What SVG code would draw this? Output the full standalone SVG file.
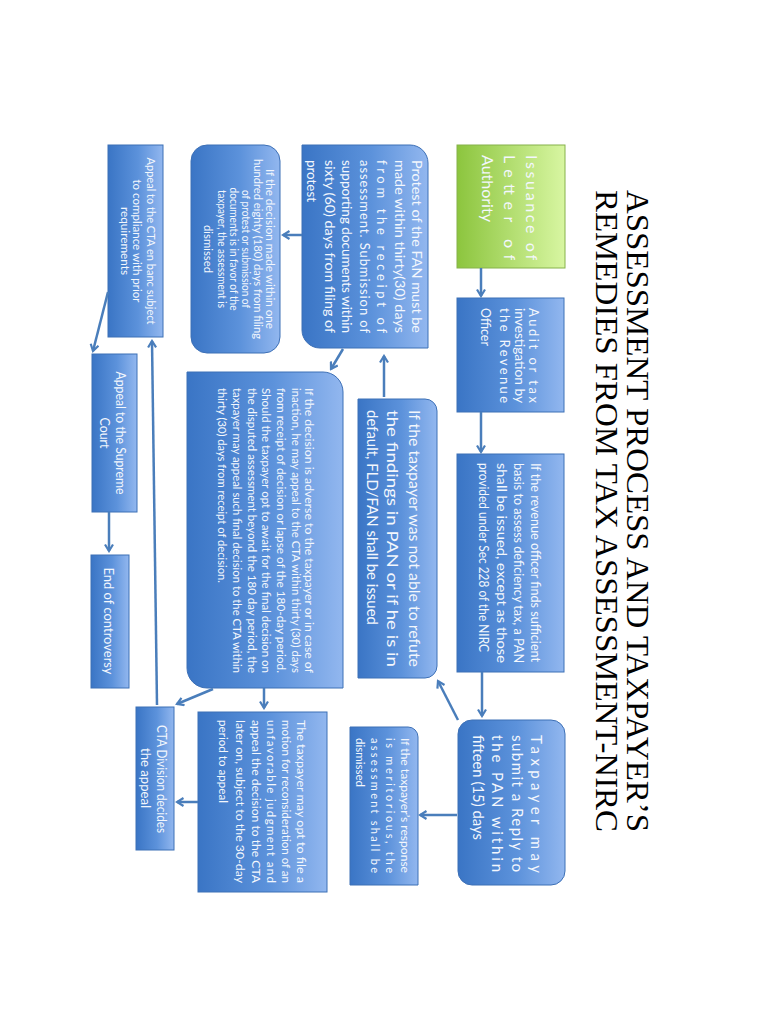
<svg xmlns="http://www.w3.org/2000/svg" width="768" height="1024" viewBox="0 0 768 1024">
<defs>
<linearGradient id="gb" x1="0" y1="0" x2="1" y2="0">
<stop offset="0" stop-color="#3a75c5"/>
<stop offset="0.55" stop-color="#5c92db"/>
<stop offset="1" stop-color="#92b7ef"/>
</linearGradient>
<linearGradient id="gg" x1="0" y1="0" x2="1" y2="0">
<stop offset="0" stop-color="#8cc53e"/>
<stop offset="1" stop-color="#d8f6a2"/>
</linearGradient>
<marker id="ah" markerWidth="10" markerHeight="10" refX="8" refY="5" orient="auto" markerUnits="userSpaceOnUse">
<path d="M1.5,1 L8,5 L1.5,9" fill="none" stroke="#4a7ebb" stroke-width="2.2" stroke-linejoin="miter"/>
</marker>
<style>
.b{fill:url(#gb);stroke:#3d70b6;stroke-width:1}
.g{fill:url(#gg);stroke:#86b24a;stroke-width:1}
text{font-family:Lato,"Liberation Sans",sans-serif;fill:#f3f7fd;dominant-baseline:central}
.t{font-family:"Liberation Serif","Times New Roman",serif;fill:#000;font-size:31px;dominant-baseline:alphabetic}
.c line{stroke:#4a7ebb;stroke-width:2.5;marker-end:url(#ah)}
.m{text-anchor:middle}
</style>
</defs>
<rect width="768" height="1024" fill="#fff"/>

<g id="title">
<text class="t" transform="translate(627,190) rotate(90)" textLength="642" lengthAdjust="spacingAndGlyphs">ASSESSMENT PROCESS AND TAXPAYER’S</text>
<text class="t" transform="translate(596,190) rotate(90)" textLength="642" lengthAdjust="spacingAndGlyphs">REMEDIES FROM TAX ASSESSMENT-NIRC</text>
</g>

<g id="n-loa">
<rect class="g" x="457" y="145" width="108" height="123"/>
<g transform="translate(565,145) rotate(90)" font-size="16">
<text x="10" y="33" textLength="105" lengthAdjust="spacing">Issuance of</text>
<text x="10" y="55" textLength="105" lengthAdjust="spacing">Letter of</text>
<text x="10" y="77">Authority</text>
</g>
</g>

<g id="n-audit">
<rect class="b" x="457" y="298" width="107" height="114"/>
<g transform="translate(564,298) rotate(90)" font-size="13">
<text x="10" y="30" textLength="95" lengthAdjust="spacing">Audit or tax</text>
<text x="10" y="44" textLength="95" lengthAdjust="spacingAndGlyphs">investigation by</text>
<text x="10" y="59" textLength="95" lengthAdjust="spacing">the Revenue</text>
<text x="10" y="78" textLength="38" lengthAdjust="spacingAndGlyphs">Officer</text>
</g>
</g>

<g id="n-pan">
<rect class="b" x="457" y="454" width="107" height="218"/>
<g transform="translate(564,454) rotate(90)" font-size="12.5">
<text x="9" y="29" textLength="199" lengthAdjust="spacingAndGlyphs">If the revenue officer finds sufficient</text>
<text x="9" y="46" textLength="200" lengthAdjust="spacingAndGlyphs">basis to assess deficiency tax, a PAN</text>
<text x="9" y="63" textLength="200" lengthAdjust="spacingAndGlyphs">shall be issued, except as those</text>
<text x="9" y="81" textLength="189" lengthAdjust="spacingAndGlyphs">provided under Sec 228 of the NIRC</text>
</g>
</g>

<g id="n-reply">
<rect class="b" x="458" y="720" width="107" height="165" rx="14"/>
<g transform="translate(565,720) rotate(90)" font-size="15">
<text x="15" y="28" textLength="138" lengthAdjust="spacing">Taxpayer may</text>
<text x="15" y="47" textLength="137" lengthAdjust="spacing">submit a Reply to</text>
<text x="15" y="67" textLength="137" lengthAdjust="spacing">the PAN within</text>
<text x="15" y="86" textLength="105" lengthAdjust="spacingAndGlyphs">fifteen (15) days</text>
</g>
</g>

<g id="n-merit">
<path class="b" d="M350,727 H408 A10,10 0 0 1 418,737 V885 H350 Z"/>
<g transform="translate(418,727) rotate(90)" font-size="11">
<text x="11" y="13" textLength="135" lengthAdjust="spacingAndGlyphs">If the taxpayer’s response</text>
<text x="11" y="28" textLength="135" lengthAdjust="spacing">is meritorious, the</text>
<text x="11" y="43" textLength="135" lengthAdjust="spacing">assessment shall be</text>
<text x="11" y="58" textLength="49" lengthAdjust="spacingAndGlyphs">dismissed</text>
</g>
</g>

<g id="n-fan">
<path class="b" d="M358,399 H425 A12,12 0 0 1 437,411 V666 A12,12 0 0 1 425,678 H358 Z"/>
<g transform="translate(437,399) rotate(90)" font-size="15">
<text x="11" y="22" textLength="257" lengthAdjust="spacingAndGlyphs">If the taxpayer was not able to refute</text>
<text x="11" y="44" textLength="257" lengthAdjust="spacingAndGlyphs">the findings in PAN or if he is in</text>
<text x="11" y="64" textLength="215" lengthAdjust="spacingAndGlyphs">default, FLD/FAN shall be issued</text>
</g>
</g>

<g id="n-protest">
<path class="b" d="M302,145 H410 A18,18 0 0 1 428,163 V348 H320 A18,18 0 0 1 302,330 Z"/>
<g transform="translate(428,145) rotate(90)" font-size="13">
<text x="15" y="11" textLength="173" lengthAdjust="spacingAndGlyphs">Protest of the FAN must be</text>
<text x="15" y="28" textLength="173" lengthAdjust="spacingAndGlyphs">made within thirty(30) days</text>
<text x="15" y="46" textLength="173" lengthAdjust="spacing">from the receipt of</text>
<text x="15" y="63" textLength="173" lengthAdjust="spacing">assessment. Submission of</text>
<text x="15" y="81" textLength="173" lengthAdjust="spacingAndGlyphs">supporting documents within</text>
<text x="15" y="98" textLength="173" lengthAdjust="spacingAndGlyphs">sixty (60) days from filing of</text>
<text x="15" y="116" textLength="42" lengthAdjust="spacingAndGlyphs">protest</text>
</g>
</g>

<g id="n-favor">
<rect class="b" x="191" y="145" width="89" height="208" rx="16"/>
<g transform="translate(280,145) rotate(90)" font-size="11" class="m">
<text class="m" x="104" y="10" textLength="160" lengthAdjust="spacingAndGlyphs">If the decision made within one</text>
<text class="m" x="104" y="22" textLength="180" lengthAdjust="spacingAndGlyphs">hundred eighty (180) days from filing</text>
<text class="m" x="104" y="34" textLength="118" lengthAdjust="spacingAndGlyphs">of protest or submission of</text>
<text class="m" x="104" y="46" textLength="123" lengthAdjust="spacingAndGlyphs">documents is in favor of the</text>
<text class="m" x="104" y="58" textLength="118" lengthAdjust="spacingAndGlyphs">taxpayer, the assessment is</text>
<text class="m" x="104" y="72" textLength="48" lengthAdjust="spacingAndGlyphs">dismissed</text>
</g>
</g>

<g id="n-enbanc">
<rect class="b" x="108" y="145" width="55" height="192"/>
<g transform="translate(163,145) rotate(90)" font-size="11.5">
<text class="m" x="96" y="12" textLength="167" lengthAdjust="spacingAndGlyphs">Appeal to the CTA en banc subject</text>
<text class="m" x="96" y="26" textLength="123" lengthAdjust="spacingAndGlyphs">to compliance with prior</text>
<text class="m" x="96" y="38" textLength="68" lengthAdjust="spacingAndGlyphs">requirements</text>
</g>
</g>

<g id="n-sc">
<rect class="b" x="92" y="354" width="45" height="158"/>
<g transform="translate(137,354) rotate(90)" font-size="12.5">
<text class="m" x="79" y="17" textLength="123" lengthAdjust="spacingAndGlyphs">Appeal to the Supreme</text>
<text class="m" x="79" y="33" textLength="31" lengthAdjust="spacingAndGlyphs">Court</text>
</g>
</g>

<g id="n-end">
<rect class="b" x="91" y="555" width="38" height="133"/>
<g transform="translate(129,555) rotate(90)" font-size="14">
<text class="m" x="66" y="20" textLength="107" lengthAdjust="spacingAndGlyphs">End of controversy</text>
</g>
</g>

<g id="n-adverse">
<path class="b" d="M187,372 H323 A20,20 0 0 1 343,392 V688 H207 A20,20 0 0 1 187,668 Z"/>
<g transform="translate(343,372) rotate(90)" font-size="11.5">
<text x="16" y="34" textLength="285" lengthAdjust="spacingAndGlyphs">If the decision is adverse to the taxpayer or in case of</text>
<text x="16" y="47" textLength="285" lengthAdjust="spacingAndGlyphs">inaction, he may appeal to the CTA within thirty (30) days</text>
<text x="16" y="62" textLength="285" lengthAdjust="spacingAndGlyphs">from receipt of decision or lapse of the 180-day period.</text>
<text x="16" y="77" textLength="285" lengthAdjust="spacingAndGlyphs">Should the taxpayer opt to await for the final decision on</text>
<text x="16" y="91" textLength="285" lengthAdjust="spacingAndGlyphs">the disputed assessment beyond the 180 day period, the</text>
<text x="16" y="106" textLength="285" lengthAdjust="spacingAndGlyphs">taxpayer may appeal such final decision to the CTA within</text>
<text x="16" y="121" textLength="195" lengthAdjust="spacingAndGlyphs">thirty (30) days from receipt of decision.</text>
</g>
</g>

<g id="n-motion">
<rect class="b" x="198" y="712" width="129" height="180"/>
<g transform="translate(327,712) rotate(90)" font-size="11.5">
<text x="8" y="26" textLength="163" lengthAdjust="spacingAndGlyphs">The taxpayer may opt to file a</text>
<text x="8" y="41" textLength="163" lengthAdjust="spacingAndGlyphs">motion for reconsideration of an</text>
<text x="8" y="56" textLength="163" lengthAdjust="spacing">unfavorable judgment and</text>
<text x="8" y="71" textLength="163" lengthAdjust="spacingAndGlyphs">appeal the decision to the CTA</text>
<text x="8" y="87" textLength="163" lengthAdjust="spacingAndGlyphs">later on, subject to the 30-day</text>
<text x="8" y="104" textLength="83" lengthAdjust="spacingAndGlyphs">period to appeal</text>
</g>
</g>

<g id="n-division">
<rect class="b" x="136" y="707" width="38" height="143"/>
<g transform="translate(174,707) rotate(90)" font-size="14">
<text class="m" x="72" y="12" textLength="108" lengthAdjust="spacingAndGlyphs">CTA Division decides</text>
<text class="m" x="71" y="28" textLength="60" lengthAdjust="spacingAndGlyphs">the appeal</text>
</g>
</g>

<g id="connectors" class="c">
<line x1="481" y1="268" x2="481" y2="296"/>
<line x1="481" y1="412" x2="481" y2="452"/>
<line x1="482" y1="672" x2="482" y2="716"/>
<line x1="457" y1="815" x2="420" y2="815"/>
<line x1="458" y1="720" x2="438" y2="681"/>
<line x1="384" y1="397" x2="384" y2="356"/>
<line x1="302" y1="235" x2="283" y2="235"/>
<line x1="343" y1="349" x2="331" y2="369"/>
<line x1="213" y1="689" x2="177" y2="704"/>
<line x1="264" y1="688" x2="264" y2="708"/>
<line x1="198" y1="802" x2="177" y2="802"/>
<line x1="157" y1="705" x2="152" y2="341"/>
<line x1="108" y1="292" x2="93" y2="351"/>
<line x1="109" y1="512" x2="109" y2="551"/>
</g>
</svg>
